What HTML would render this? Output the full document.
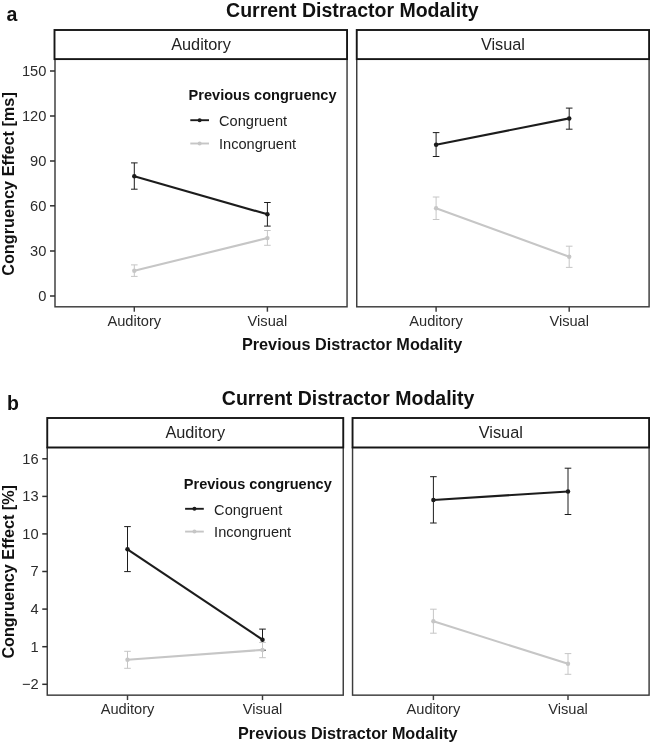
<!DOCTYPE html>
<html lang="en"><head><meta charset="utf-8"><title>Congruency effect figure</title>
<style>
html,body{margin:0;padding:0;background:#fff;}
svg{display:block;font-family:"Liberation Sans", Arial, Helvetica, sans-serif;}
</style></head>
<body>
<svg width="650" height="745" viewBox="0 0 650 745">
<rect width="650" height="745" fill="#ffffff"/>
<text x="6.6" y="20.9" font-size="19.5" font-weight="bold" fill="#111">a</text>
<text x="352.3" y="17.2" text-anchor="middle" font-size="19.5" font-weight="bold" fill="#111">Current Distractor Modality</text>
<rect x="55.0" y="59.1" width="292.05" height="247.70000000000002" fill="#fff" stroke="#3c3c3c" stroke-width="1.45"/>
<rect x="54.5" y="30.0" width="292.55" height="29.1" fill="#fff" stroke="#161616" stroke-width="1.9"/>
<text x="201.03" y="50.15" text-anchor="middle" font-size="16.3" fill="#222">Auditory</text>
<line x1="134.3" y1="306.8" x2="134.3" y2="311.7" stroke="#3c3c3c" stroke-width="1.45"/>
<text x="134.3" y="325.90" text-anchor="middle" font-size="14.65" fill="#2b2b2b">Auditory</text>
<line x1="267.4" y1="306.8" x2="267.4" y2="311.7" stroke="#3c3c3c" stroke-width="1.45"/>
<text x="267.4" y="325.90" text-anchor="middle" font-size="14.65" fill="#2b2b2b">Visual</text>
<line x1="134.30" y1="176.20" x2="267.40" y2="214.30" stroke="#1c1c1c" stroke-width="2.1" stroke-linecap="butt"/>
<circle cx="134.30" cy="176.20" r="2.25" fill="#1c1c1c"/>
<circle cx="267.40" cy="214.30" r="2.25" fill="#1c1c1c"/>
<path d="M131.00 162.90H137.60M134.30 162.90V189.20M131.00 189.20H137.60" stroke="#1c1c1c" stroke-width="1.0" fill="none"/>
<path d="M264.10 202.50H270.70M267.40 202.50V226.10M264.10 226.10H270.70" stroke="#1c1c1c" stroke-width="1.0" fill="none"/>
<line x1="134.30" y1="270.80" x2="267.40" y2="238.10" stroke="#c6c6c6" stroke-width="2.1" stroke-linecap="butt"/>
<circle cx="134.30" cy="270.80" r="2.2" fill="#c6c6c6"/>
<circle cx="267.40" cy="238.10" r="2.2" fill="#c6c6c6"/>
<path d="M131.00 264.90H137.60M134.30 264.90V276.40M131.00 276.40H137.60" stroke="#c6c6c6" stroke-width="1.0" fill="none"/>
<path d="M264.10 230.50H270.70M267.40 230.50V245.30M264.10 245.30H270.70" stroke="#c6c6c6" stroke-width="1.0" fill="none"/>
<line x1="50.0" y1="71" x2="55.0" y2="71" stroke="#2e2e2e" stroke-width="1.5"/>
<text x="46.40" y="75.95" text-anchor="end" font-size="14.65" fill="#2b2b2b">150</text>
<line x1="50.0" y1="116" x2="55.0" y2="116" stroke="#2e2e2e" stroke-width="1.5"/>
<text x="46.40" y="120.95" text-anchor="end" font-size="14.65" fill="#2b2b2b">120</text>
<line x1="50.0" y1="161" x2="55.0" y2="161" stroke="#2e2e2e" stroke-width="1.5"/>
<text x="46.40" y="165.95" text-anchor="end" font-size="14.65" fill="#2b2b2b">90</text>
<line x1="50.0" y1="205.8" x2="55.0" y2="205.8" stroke="#2e2e2e" stroke-width="1.5"/>
<text x="46.40" y="210.75" text-anchor="end" font-size="14.65" fill="#2b2b2b">60</text>
<line x1="50.0" y1="251" x2="55.0" y2="251" stroke="#2e2e2e" stroke-width="1.5"/>
<text x="46.40" y="255.95" text-anchor="end" font-size="14.65" fill="#2b2b2b">30</text>
<line x1="50.0" y1="296" x2="55.0" y2="296" stroke="#2e2e2e" stroke-width="1.5"/>
<text x="46.40" y="300.95" text-anchor="end" font-size="14.65" fill="#2b2b2b">0</text>
<rect x="356.75" y="59.1" width="292.35" height="247.70000000000002" fill="#fff" stroke="#3c3c3c" stroke-width="1.45"/>
<rect x="356.75" y="30.0" width="292.35" height="29.1" fill="#fff" stroke="#161616" stroke-width="1.9"/>
<text x="502.93" y="50.15" text-anchor="middle" font-size="16.3" fill="#222">Visual</text>
<line x1="436.1" y1="306.8" x2="436.1" y2="311.7" stroke="#3c3c3c" stroke-width="1.45"/>
<text x="436.1" y="325.90" text-anchor="middle" font-size="14.65" fill="#2b2b2b">Auditory</text>
<line x1="569.2" y1="306.8" x2="569.2" y2="311.7" stroke="#3c3c3c" stroke-width="1.45"/>
<text x="569.2" y="325.90" text-anchor="middle" font-size="14.65" fill="#2b2b2b">Visual</text>
<line x1="436.10" y1="144.70" x2="569.20" y2="118.40" stroke="#1c1c1c" stroke-width="2.1" stroke-linecap="butt"/>
<circle cx="436.10" cy="144.70" r="2.25" fill="#1c1c1c"/>
<circle cx="569.20" cy="118.40" r="2.25" fill="#1c1c1c"/>
<path d="M432.80 132.60H439.40M436.10 132.60V156.50M432.80 156.50H439.40" stroke="#1c1c1c" stroke-width="1.0" fill="none"/>
<path d="M565.90 108.10H572.50M569.20 108.10V129.20M565.90 129.20H572.50" stroke="#1c1c1c" stroke-width="1.0" fill="none"/>
<line x1="436.10" y1="208.30" x2="569.20" y2="256.70" stroke="#c6c6c6" stroke-width="2.1" stroke-linecap="butt"/>
<circle cx="436.10" cy="208.30" r="2.2" fill="#c6c6c6"/>
<circle cx="569.20" cy="256.70" r="2.2" fill="#c6c6c6"/>
<path d="M432.80 197.00H439.40M436.10 197.00V219.50M432.80 219.50H439.40" stroke="#c6c6c6" stroke-width="1.0" fill="none"/>
<path d="M565.90 246.20H572.50M569.20 246.20V267.40M565.90 267.40H572.50" stroke="#c6c6c6" stroke-width="1.0" fill="none"/>
<text x="188.6" y="99.6" font-size="14.55" font-weight="bold" fill="#111">Previous congruency</text>
<line x1="190.30" y1="120.20" x2="209.00" y2="120.20" stroke="#1c1c1c" stroke-width="1.9" stroke-linecap="butt"/>
<circle cx="199.65" cy="120.20" r="2.0" fill="#1c1c1c"/>
<text x="219.0" y="126.00" font-size="14.6" fill="#222">Congruent</text>
<line x1="190.30" y1="143.50" x2="209.00" y2="143.50" stroke="#c6c6c6" stroke-width="1.9" stroke-linecap="butt"/>
<circle cx="199.65" cy="143.50" r="2.0" fill="#c6c6c6"/>
<text x="219.0" y="149.30" font-size="14.6" fill="#222">Incongruent</text>
<text x="352.1" y="350.4" text-anchor="middle" font-size="16.25" font-weight="bold" fill="#111">Previous Distractor Modality</text>
<text transform="translate(14.4,184) rotate(-90)" text-anchor="middle" font-size="16.3" font-weight="bold" fill="#111">Congruency Effect [ms]</text>
<text x="7" y="409.5" font-size="19.5" font-weight="bold" fill="#111">b</text>
<text x="348.1" y="404.7" text-anchor="middle" font-size="19.5" font-weight="bold" fill="#111">Current Distractor Modality</text>
<rect x="47.25" y="447.45" width="296.0" height="247.7" fill="#fff" stroke="#3c3c3c" stroke-width="1.45"/>
<rect x="47.25" y="418.0" width="296.0" height="29.44999999999999" fill="#fff" stroke="#161616" stroke-width="1.9"/>
<text x="195.25" y="438.33" text-anchor="middle" font-size="16.3" fill="#222">Auditory</text>
<line x1="127.5" y1="695.15" x2="127.5" y2="700.05" stroke="#3c3c3c" stroke-width="1.45"/>
<text x="127.5" y="714.00" text-anchor="middle" font-size="14.65" fill="#2b2b2b">Auditory</text>
<line x1="262.5" y1="695.15" x2="262.5" y2="700.05" stroke="#3c3c3c" stroke-width="1.45"/>
<text x="262.5" y="714.00" text-anchor="middle" font-size="14.65" fill="#2b2b2b">Visual</text>
<line x1="127.50" y1="549.30" x2="262.50" y2="639.70" stroke="#1c1c1c" stroke-width="2.1" stroke-linecap="butt"/>
<circle cx="127.50" cy="549.30" r="2.25" fill="#1c1c1c"/>
<circle cx="262.50" cy="639.70" r="2.25" fill="#1c1c1c"/>
<path d="M124.20 526.60H130.80M127.50 526.60V571.60M124.20 571.60H130.80" stroke="#1c1c1c" stroke-width="1.0" fill="none"/>
<path d="M259.20 629.10H265.80M262.50 629.10V650.20M259.20 650.20H265.80" stroke="#1c1c1c" stroke-width="1.0" fill="none"/>
<line x1="127.50" y1="659.70" x2="262.50" y2="649.90" stroke="#c6c6c6" stroke-width="2.1" stroke-linecap="butt"/>
<circle cx="127.50" cy="659.70" r="2.2" fill="#c6c6c6"/>
<circle cx="262.50" cy="649.90" r="2.2" fill="#c6c6c6"/>
<path d="M124.20 651.30H130.80M127.50 651.30V668.30M124.20 668.30H130.80" stroke="#c6c6c6" stroke-width="1.0" fill="none"/>
<path d="M259.20 642.50H265.80M262.50 642.50V657.70M259.20 657.70H265.80" stroke="#c6c6c6" stroke-width="1.0" fill="none"/>
<line x1="42.25" y1="458.8" x2="47.25" y2="458.8" stroke="#2e2e2e" stroke-width="1.5"/>
<text x="38.65" y="463.75" text-anchor="end" font-size="14.65" fill="#2b2b2b">16</text>
<line x1="42.25" y1="496.4" x2="47.25" y2="496.4" stroke="#2e2e2e" stroke-width="1.5"/>
<text x="38.65" y="501.35" text-anchor="end" font-size="14.65" fill="#2b2b2b">13</text>
<line x1="42.25" y1="533.9" x2="47.25" y2="533.9" stroke="#2e2e2e" stroke-width="1.5"/>
<text x="38.65" y="538.85" text-anchor="end" font-size="14.65" fill="#2b2b2b">10</text>
<line x1="42.25" y1="571.5" x2="47.25" y2="571.5" stroke="#2e2e2e" stroke-width="1.5"/>
<text x="38.65" y="576.45" text-anchor="end" font-size="14.65" fill="#2b2b2b">7</text>
<line x1="42.25" y1="609.1" x2="47.25" y2="609.1" stroke="#2e2e2e" stroke-width="1.5"/>
<text x="38.65" y="614.05" text-anchor="end" font-size="14.65" fill="#2b2b2b">4</text>
<line x1="42.25" y1="646.7" x2="47.25" y2="646.7" stroke="#2e2e2e" stroke-width="1.5"/>
<text x="38.65" y="651.65" text-anchor="end" font-size="14.65" fill="#2b2b2b">1</text>
<line x1="42.25" y1="684.3" x2="47.25" y2="684.3" stroke="#2e2e2e" stroke-width="1.5"/>
<text x="38.65" y="689.25" text-anchor="end" font-size="14.65" fill="#2b2b2b">−2</text>
<rect x="352.55" y="447.45" width="296.55" height="247.7" fill="#fff" stroke="#3c3c3c" stroke-width="1.45"/>
<rect x="352.55" y="418.0" width="296.55" height="29.44999999999999" fill="#fff" stroke="#161616" stroke-width="1.9"/>
<text x="500.83" y="438.33" text-anchor="middle" font-size="16.3" fill="#222">Visual</text>
<line x1="433.4" y1="695.15" x2="433.4" y2="700.05" stroke="#3c3c3c" stroke-width="1.45"/>
<text x="433.4" y="714.00" text-anchor="middle" font-size="14.65" fill="#2b2b2b">Auditory</text>
<line x1="568.0" y1="695.15" x2="568.0" y2="700.05" stroke="#3c3c3c" stroke-width="1.45"/>
<text x="568.0" y="714.00" text-anchor="middle" font-size="14.65" fill="#2b2b2b">Visual</text>
<line x1="433.40" y1="500.00" x2="568.00" y2="491.45" stroke="#1c1c1c" stroke-width="2.1" stroke-linecap="butt"/>
<circle cx="433.40" cy="500.00" r="2.25" fill="#1c1c1c"/>
<circle cx="568.00" cy="491.45" r="2.25" fill="#1c1c1c"/>
<path d="M430.10 476.70H436.70M433.40 476.70V523.00M430.10 523.00H436.70" stroke="#1c1c1c" stroke-width="1.0" fill="none"/>
<path d="M564.70 468.20H571.30M568.00 468.20V514.50M564.70 514.50H571.30" stroke="#1c1c1c" stroke-width="1.0" fill="none"/>
<line x1="433.40" y1="621.30" x2="568.00" y2="663.80" stroke="#c6c6c6" stroke-width="2.1" stroke-linecap="butt"/>
<circle cx="433.40" cy="621.30" r="2.2" fill="#c6c6c6"/>
<circle cx="568.00" cy="663.80" r="2.2" fill="#c6c6c6"/>
<path d="M430.10 609.20H436.70M433.40 609.20V633.20M430.10 633.20H436.70" stroke="#c6c6c6" stroke-width="1.0" fill="none"/>
<path d="M564.70 653.60H571.30M568.00 653.60V674.30M564.70 674.30H571.30" stroke="#c6c6c6" stroke-width="1.0" fill="none"/>
<text x="183.8" y="488.6" font-size="14.55" font-weight="bold" fill="#111">Previous congruency</text>
<line x1="185.10" y1="508.80" x2="203.80" y2="508.80" stroke="#1c1c1c" stroke-width="1.9" stroke-linecap="butt"/>
<circle cx="194.45" cy="508.80" r="2.0" fill="#1c1c1c"/>
<text x="214.1" y="514.60" font-size="14.6" fill="#222">Congruent</text>
<line x1="185.10" y1="531.60" x2="203.80" y2="531.60" stroke="#c6c6c6" stroke-width="1.9" stroke-linecap="butt"/>
<circle cx="194.45" cy="531.60" r="2.0" fill="#c6c6c6"/>
<text x="214.1" y="537.40" font-size="14.6" fill="#222">Incongruent</text>
<text x="347.8" y="738.5" text-anchor="middle" font-size="16.2" font-weight="bold" fill="#111">Previous Distractor Modality</text>
<text transform="translate(14.4,571.8) rotate(-90)" text-anchor="middle" font-size="16.2" font-weight="bold" fill="#111">Congruency Effect [%]</text>
</svg>
</body></html>
